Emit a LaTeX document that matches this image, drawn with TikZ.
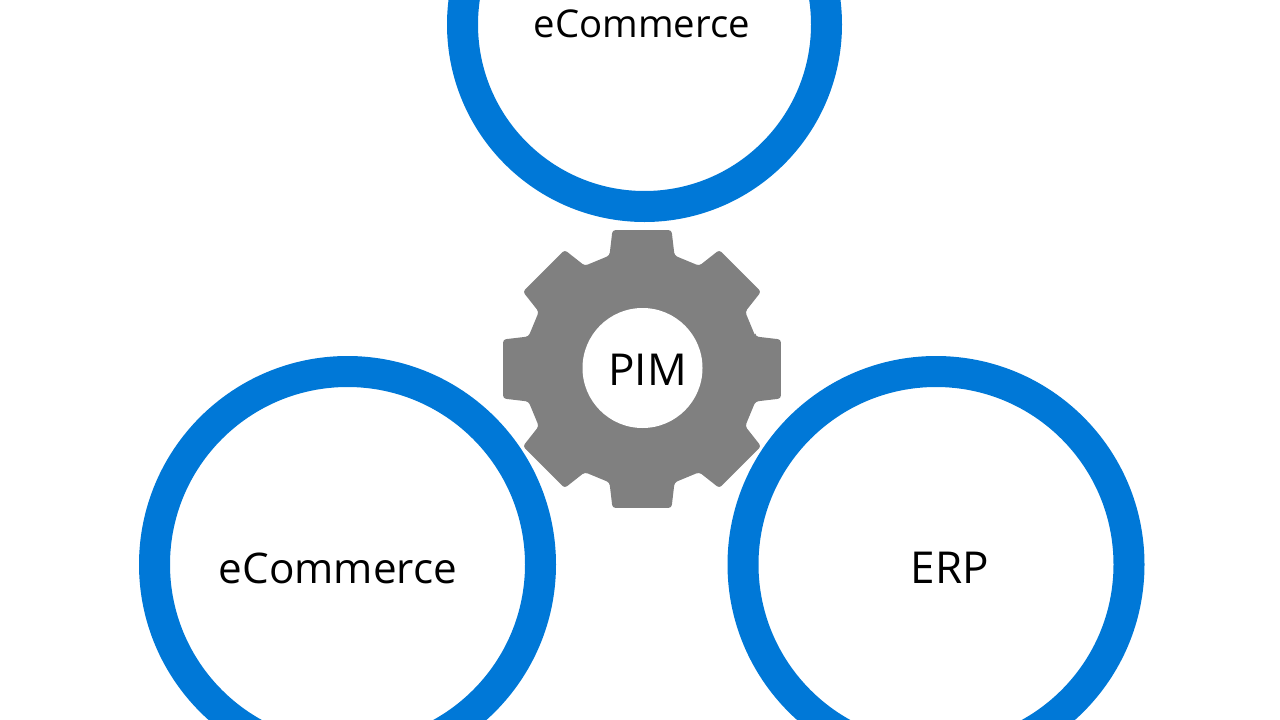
\documentclass[tikz,border=0pt]{standalone}
\usepackage{fontspec}
\setmainfont{Open Sans}
\definecolor{ringblue}{HTML}{0078D7}
\definecolor{geargray}{HTML}{808080}
\usetikzlibrary{calc}
\begin{document}
\begin{tikzpicture}[x=1pt,y=-1pt, ring/.style={circle,draw=ringblue,line width=31pt,inner sep=0pt,outer sep=0pt}]
	\useasboundingbox (0,0) rectangle (1280,720);
	\clip (0,0) rectangle (1280,720);

	% three rings
	\node[ring,minimum size=364pt] (top) at (644.5,24.5) {};
	\node[ring,minimum size=386pt] (left) at (347.5,564.5) {};
	\node[ring,minimum size=386pt] (right) at (936,564.5) {};
	\node[font=\fontsize{38.3}{46}\selectfont] (toplabel) at (642,24) {eCommerce};
	\node[font=\fontsize{42.2}{50}\selectfont] (leftlabel) at (338,568) {eCommerce};
	\node[font=\fontsize{44}{52}\selectfont] (rightlabel) at (950,568) {ERP};

	% gear
	\coordinate (hub) at (642,369);
	\fill[geargray,rounded corners=3pt] ($(hub)+(-16:118)$)
		\foreach \a in {0,45,...,315} {
			-- ($(hub)+(\a-16:118)$) -- ($(hub)+(\a-12:142)$) -- ($(hub)+(\a+12:142)$) -- ($(hub)+(\a+16:118)$)
		} -- cycle;
	\node[circle,fill=white,minimum size=120pt,inner sep=0pt] (hole) at (642.5,368) {};
	\node[font=\fontsize{44}{52}\selectfont] (pim) at (647.5,370) {PIM};
\end{tikzpicture}
\end{document}
